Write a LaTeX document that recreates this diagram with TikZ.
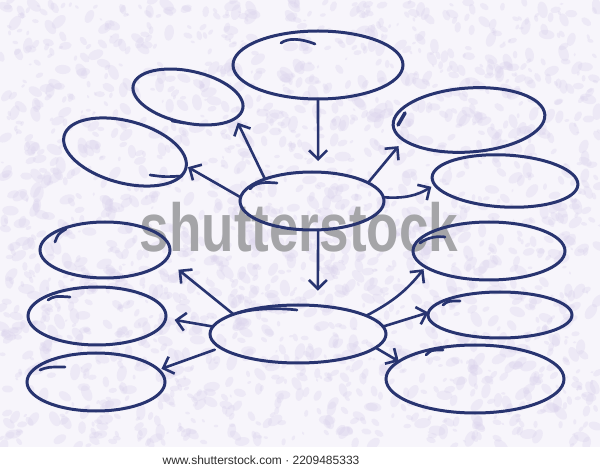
\documentclass[tikz,border=0pt]{standalone}
\usepackage{fontspec}
\setmainfont{Liberation Sans}
\usetikzlibrary{shapes.geometric,arrows.meta}
\definecolor{ink}{RGB}{40,52,112}
\definecolor{paper}{RGB}{247,245,251}
\definecolor{mottle}{RGB}{218,210,236}
\definecolor{wm}{RGB}{165,165,168}
\definecolor{credit}{RGB}{45,45,45}
\begin{document}
\begin{tikzpicture}[x=1pt,y=-1pt,
  bub/.style={draw=ink, line width=3pt, ellipse, inner sep=0pt, outer sep=0pt},
  hook/.style={draw=ink, line width=2.7pt, line cap=round},
  arr/.style={draw=ink, line width=2.6pt, line cap=round,
    -{Straight Barb[length=9pt,width=18pt,line width=2.6pt]}}]
\useasboundingbox (0,0) rectangle (600,470);
% paper
\fill[paper] (0,0) rectangle (600,447);
\begin{scope}
\clip (0,0) rectangle (600,447);
\pgfmathsetseed{12}
\foreach \i in {1,...,2000}{
  \pgfmathsetmacro\px{rnd*600}
  \pgfmathsetmacro\py{rnd*447}
  \pgfmathsetmacro\rr{1+rnd*4}
  \pgfmathsetmacro\aa{rnd*180}
  \fill[mottle, opacity=0.32, rotate around={\aa:(\px,\py)}] (\px,\py) ellipse [x radius=\rr*1.7, y radius=\rr];
}
\end{scope}
\fill[white] (0,447) rectangle (600,470);
% watermark
\node[text=wm, font=\fontsize{68}{68}\selectfont\bfseries, inner sep=0pt, anchor=base] (wmk) at (299,252) {\scalebox{0.78}[1]{shutterstock}};
\node[text=credit, font=\fontsize{12}{14}\selectfont, inner sep=0pt, anchor=base] (cred) at (261,464) {www.shutterstock.com · 2209485333};
% bubbles
\node[bub, minimum width=170pt, minimum height=68pt] (top) at (318,65) {};
\node[bub, minimum width=112pt, minimum height=52pt, rotate=-12] (tl) at (188,97) {};
\node[bub, minimum width=126pt, minimum height=62pt, rotate=-15] (l) at (125,152) {};
\node[bub, minimum width=144pt, minimum height=58pt] (mid) at (312,201) {};
\node[bub, minimum width=176pt, minimum height=58pt] (bot) at (298,334) {};
\node[bub, minimum width=152pt, minimum height=64pt, rotate=4] (r1) at (469,120) {};
\node[bub, minimum width=146pt, minimum height=52pt, rotate=-3] (r2) at (505,181) {};
\node[bub, minimum width=152pt, minimum height=58pt] (r3) at (489,251) {};
\node[bub, minimum width=144pt, minimum height=46pt] (r4) at (500,315) {};
\node[bub, minimum width=178pt, minimum height=68pt] (r5) at (475,379) {};
\node[bub, minimum width=130pt, minimum height=56pt] (L1) at (105,250) {};
\node[bub, minimum width=138pt, minimum height=58pt] (L2) at (97,316) {};
\node[bub, minimum width=138pt, minimum height=58pt] (L3) at (96,382) {};
% pen hooks
\draw[hook] (315,44) .. controls (300,38) and (288,38) .. (281,43);
\draw[hook] (150,175) .. controls (165,177) .. (182,176);
\draw[hook] (250,189) .. controls (255,182) and (265,182) .. (277,183);
\draw[hook] (238,313) .. controls (255,308) and (280,308) .. (297,310);
\draw[hook, line width=3.6pt] (398,125) -- (405,113);
\draw[hook] (420,243) .. controls (428,237) and (438,236) .. (445,237);
\draw[hook] (443,305) .. controls (448,301) .. (460,301);
\draw[hook] (426,355) .. controls (431,350) .. (443,350);
\draw[hook] (55,242) .. controls (58,234) .. (66,229);
\draw[hook] (48,300) .. controls (55,296) .. (70,297);
\draw[hook] (40,370) .. controls (48,367) .. (65,367);
\draw[hook] (172,121) -- (184,123);
% arrows
\draw[arr, shorten >=11pt] (top.south) -- (mid.78);
\draw[arr, shorten >=5pt] (mid.155) -- (tl.-12);
\draw[arr, shorten >=2pt] (mid.177) -- (l.2);
\draw[arr, shorten >=8pt] (mid.18) -- (r1.193);
\draw[arr, shorten >=4pt] (mid.3) to[bend right=18] (r2.186);
\draw[arr, shorten >=15pt] (mid.-78) -- (bot.55);
\draw[arr, shorten >=16pt] (bot.163) -- (L1.-9);
\draw[arr, shorten >=9pt] (bot.175) -- (L2.-2);
\draw[arr, shorten <=6pt, shorten >=3pt] (bot.190) -- (L3.11);
\draw[arr, shorten >=3pt] (bot.15) to[bend right=12] (r3.194);
\draw[arr] (bot.5) -- (r4.178);
\draw[arr] (bot.-10) -- (r5.167);
\end{tikzpicture}
\end{document}
